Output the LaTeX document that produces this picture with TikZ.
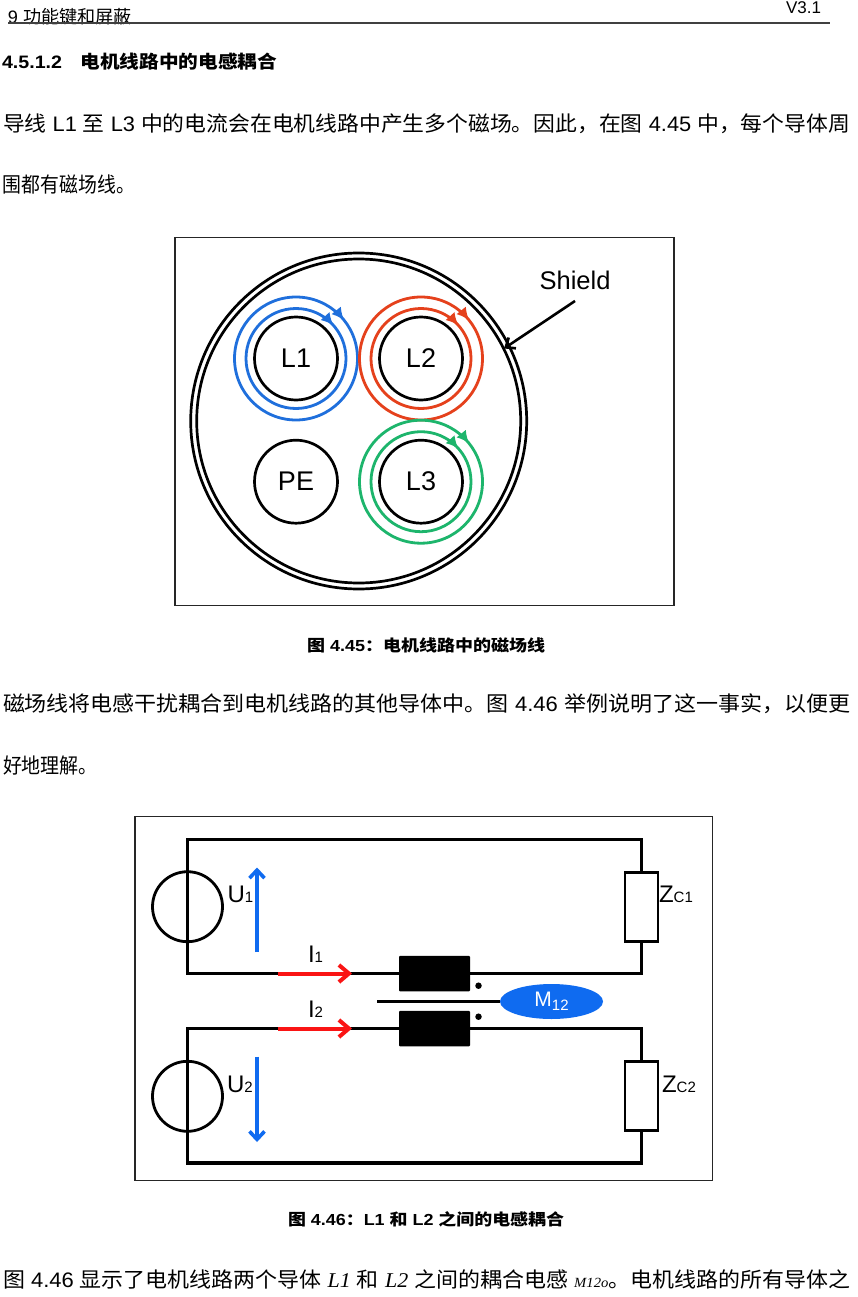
\documentclass[tikz,border=0pt]{standalone}
\usepackage{fontspec}
\usepackage{graphicx}
\usetikzlibrary{arrows.meta,shapes.geometric}
\setmainfont{Liberation Sans}
\newfontfamily\cjk{Noto Sans CJK SC}
\newfontfamily\serifit{Liberation Serif}
\newcommand{\cj}[1]{{\cjk #1}}
\newcommand{\fsz}[1]{\fontsize{#1}{#1}\selectfont}
\newcommand{\fitline}[2]{\resizebox{#1pt}{\height}{#2}}
\newcommand{\subs}[2]{#1{\fsz{15}#2}}
\definecolor{ringblue}{HTML}{1F6FDC}
\definecolor{ringred}{HTML}{E5411C}
\definecolor{ringgreen}{HTML}{1DB56C}
\definecolor{volt}{HTML}{0F6BF0}
\definecolor{curr}{HTML}{FA1414}
\tikzset{
  txt/.style={anchor=base west,inner sep=0pt,outer sep=0pt,text=black},
  frm/.style={draw=black!85,line width=1.2pt},
  cond/.style={circle,draw=black,line width=2.7pt,minimum size=83pt,inner sep=0pt,font=\fsz{27}},
  shld/.style={circle,draw=black,line width=2.7pt,inner sep=0pt},
  ring/.style={line width=2.8pt},
  wire/.style={line width=3.8pt,line cap=round,line join=miter},
  src/.style={circle,draw=black,line width=2.8pt,minimum size=70pt,inner sep=0pt},
  imp/.style={rectangle,draw=black,line width=2.8pt,fill=white,minimum width=33pt,minimum height=69pt,inner sep=0pt},
  core/.style={rectangle,fill=black,rounded corners=1pt,minimum width=71pt,minimum height=35.5pt,inner sep=0pt},
  dotm/.style={circle,fill=black,minimum size=6.5pt,inner sep=0pt},
  vlt/.style={line width=3.6pt,volt,-{Straight Barb[length=8pt,width=15pt,line width=3.6pt]}},
  cur/.style={line width=4pt,curr,-{Straight Barb[length=10pt,width=17pt,line width=4pt]}},
  lab/.style={inner sep=0pt,font=\fsz{24}}
}
\newcommand{\ringat}[4]{% centre, radius, angle, colour
  \draw[ring,#4] (#1) circle (#2);
  \draw[line width=1.5pt,#4,-{Latex[length=12pt,width=12pt]}] (#1) ++(#3+16:#2) arc (#3+16:#3:#2);
}
\begin{document}
\begin{tikzpicture}[x=1pt,y=1pt]
\useasboundingbox (0,0) rectangle (858,-1297);
\fill[white] (0,0) rectangle (858,-1297);

% header
\node[txt] (hdl) at (8,-24) {\fitline{124}{\fsz{18}9 \cj{功能键和屏蔽}}};
\node[txt] (hdv) at (786,-14) {\fsz{17}V3.1};
\coordinate (ruleA) at (8,-23);
\coordinate (ruleB) at (830,-23);
\draw[black!75,line width=1.1pt] (ruleA) -- (ruleB);
\node[txt] (h4) at (2,-69) {\fitline{275}{\fsz{18}\bfseries 4.5.1.2\hspace{17pt}{\cjk 电机线路中的电感耦合}}};

% body
\node[txt] (b1) at (3,-132) {\fitline{847}{\fsz{21}\cj{导线} L1 \cj{至} L3 \cj{中的电流会在电机线路中产生多个磁场。因此，在图} 4.45 \cj{中，每个导体周}}};
\node[txt] (b2) at (3,-193) {\fitline{132}{\fsz{21}\cj{围都有磁场线。}}};

% figure 4.45
\draw[frm] (175,-237.5) rectangle (674,-605.5);
\node[shld,minimum size=336pt] (shO) at (358.7,-421) {};
\node[shld,minimum size=324pt] (shI) at (358.7,-421) {};
\node[cond] (L1) at (296,-358.5) {L1};
\node[cond] (L2) at (421,-358.5) {L2};
\node[cond] (PE) at (296,-481.7) {PE};
\node[cond] (L3) at (421,-481.7) {L3};
\ringat{L1}{50}{42}{ringblue}
\ringat{L1}{61.5}{39}{ringblue}
\ringat{L2}{50}{42}{ringred}
\ringat{L2}{61.5}{39}{ringred}
\ringat{L3}{50}{42}{ringgreen}
\ringat{L3}{61.5}{39}{ringgreen}
\node[inner sep=0pt,font=\fsz{25.5}] (shield) at (575,-280) {Shield};
\coordinate (shA) at (575,-301);
\coordinate (shT) at (504,-348.5);
\draw[line width=2.6pt,-{Straight Barb[length=8pt,width=13pt,line width=2.6pt]}] (shA) -- (shT);

\node[txt] (cap1) at (307,-651) {\fitline{238}{\fsz{16}\bfseries \cj{图} 4.45\cj{：电机线路中的磁场线}}};

\node[txt] (b3) at (3,-711) {\fitline{847}{\fsz{21}\cj{磁场线将电感干扰耦合到电机线路的其他导体中。图} 4.46 \cj{举例说明了这一事实，以便更}}};
\node[txt] (b4) at (3,-773) {\fitline{95}{\fsz{21}\cj{好地理解。}}};

% figure 4.46
\draw[frm] (135,-816.5) rectangle (712.5,-1180.5);
\coordinate (TL) at (187.5,-839.5);
\coordinate (TR) at (641.5,-839.5);
\coordinate (ML) at (187.5,-973.5);
\coordinate (MR) at (641.5,-973.5);
\coordinate (NL) at (187.5,-1028.5);
\coordinate (NR) at (641.5,-1028.5);
\coordinate (BL) at (187.5,-1163);
\coordinate (BR) at (641.5,-1163);
\node[core] (c1) at (434.5,-973.5) {};
\node[core] (c2) at (434.5,-1028.5) {};
\draw[wire] (c1.west) -- (ML) -- (TL) -- (TR) -- (MR) -- (c1.east);
\draw[wire] (c2.west) -- (NL) -- (BL) -- (BR) -- (NR) -- (c2.east);
\node[imp] (z1) at (641.5,-906.7) {};
\node[imp] (z2) at (641.5,-1096.3) {};
\node[src] (s1) at (187.5,-906.7) {};
\node[src] (s2) at (187.5,-1096.3) {};
\coordinate (v1a) at (257,-952);
\coordinate (v1b) at (257,-867.5);
\coordinate (v2a) at (257,-1056.5);
\coordinate (v2b) at (257,-1142);
\draw[vlt] (v1a) -- (v1b);
\draw[vlt] (v2a) -- (v2b);
\coordinate (i1a) at (278,-973.5);
\coordinate (i1b) at (352,-973.5);
\coordinate (i2a) at (278,-1028.5);
\coordinate (i2b) at (352,-1028.5);
\draw[cur] (i1a) -- (i1b);
\draw[cur] (i2a) -- (i2b);
\node[dotm] (d1) at (478.5,-985.7) {};
\node[dotm] (d2) at (478.5,-1016.7) {};
\node[ellipse,fill=volt,minimum width=103pt,minimum height=35pt,inner sep=0pt,text=white,font=\fsz{21}] (m) at (551.5,-1001.5) {M\raisebox{-4pt}{\fsz{15}12}};
\coordinate (mA) at (377,-1001);
\draw[line width=3pt] (mA) -- (m.west |- mA);
\node[txt,lab] (u1) at (227.5,-902) {\subs{U}{1}};
\node[txt,lab] (u2) at (227,-1092) {\subs{U}{2}};
\node[txt,lab] (i1) at (308,-962.5) {\subs{I}{1}};
\node[txt,lab] (i2) at (308,-1017.5) {\subs{I}{2}};
\node[txt,lab] (zc1) at (659,-902) {\subs{Z}{C1}};
\node[txt,lab] (zc2) at (662,-1092) {\subs{Z}{C2}};

\node[txt] (cap2) at (288,-1225) {\fitline{276}{\fsz{16}\bfseries \cj{图} 4.46\cj{：}L1 \cj{和} L2 \cj{之间的电感耦合}}};

\node[txt] (b5) at (3,-1287) {\fitline{847}{\fsz{21}\cj{图} 4.46 \cj{显示了电机线路两个导体} {\serifit\itshape L1} \cj{和} {\serifit\itshape L2} \cj{之间的耦合电感} {\serifit\itshape\fsz{14}M12o}\cj{。电机线路的所有导体之}}};
\end{tikzpicture}
\end{document}
